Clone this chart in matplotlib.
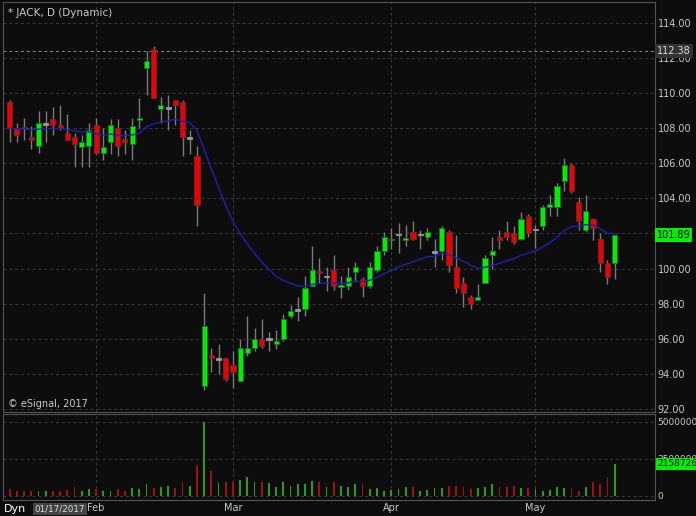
import matplotlib
matplotlib.use("Agg")
import matplotlib.pyplot as plt
import numpy as np
import pandas as pd

opens = [109.5,108.0,108.05,107.5,107.0,108.2,108.5,108.2,107.7,107.5,106.9,107.0,108.2,106.6,107.2,108.0,107.4,107.1,108.45,111.4,
         112.5,109.1,109.1,109.6,109.5,107.4,106.4,93.3,95.1,94.8,94.9,94.5,93.6,95.2,95.5,96.0,95.95,95.7,96.0,97.3,
         97.6,97.7,99.0,99.85,99.5,99.9,98.95,99.0,99.8,99.4,99.0,99.9,101.0,101.6,101.9,101.65,102.1,101.9,101.8,100.9,
         101.0,102.1,100.1,99.2,98.4,98.2,99.2,100.8,101.8,102.1,102.0,101.7,103.0,102.2,102.4,103.5,103.5,105.0,105.9,103.8,
         102.2,102.8,101.7,100.3,100.3]
highs = [109.6,108.3,108.6,108.1,109.0,109.0,109.2,109.3,108.8,107.7,107.6,108.3,108.6,108.0,108.5,108.5,107.9,108.6,109.7,112.4,
         112.7,109.8,109.9,109.6,109.6,107.9,107.0,98.6,95.5,95.7,94.9,95.3,96.0,97.3,96.6,97.1,96.4,96.5,97.4,97.9,
         98.4,99.6,101.3,100.6,100.1,100.8,99.6,100.1,100.4,99.5,100.4,101.3,102.1,102.3,102.6,102.5,102.7,102.2,102.3,101.7,
         102.4,102.2,101.9,99.5,98.5,99.1,100.8,101.8,102.2,102.7,102.4,103.2,103.1,102.5,103.6,104.2,104.9,106.3,106.0,104.1,
         104.2,102.9,102.0,100.5,101.9]
lows = [107.2,107.2,107.3,106.8,106.6,107.2,107.6,107.9,107.3,105.8,105.8,105.8,106.5,106.2,106.5,106.4,106.5,106.2,108.0,109.9,
        109.7,108.3,107.9,108.2,106.4,106.5,102.4,93.1,94.1,94.0,93.6,93.2,93.6,95.0,95.3,95.5,95.3,95.4,95.9,97.2,
        97.0,97.3,99.0,99.2,98.7,98.8,98.3,98.8,99.3,98.4,98.9,99.8,100.8,101.1,100.9,101.3,101.6,101.1,101.6,100.1,
        100.5,99.8,98.6,97.8,97.7,98.2,99.2,100.0,101.1,101.6,101.4,101.6,101.8,101.2,102.2,103.0,103.0,104.4,104.3,102.2,
        102.1,101.6,99.8,99.1,99.4]
closes = [108.0,107.6,107.95,107.3,108.3,108.2,108.2,108.0,107.3,107.1,107.2,107.9,106.6,106.9,108.2,107.0,107.2,108.1,108.55,111.8,
          109.7,109.3,109.1,109.3,107.5,107.4,103.6,96.7,94.9,94.8,93.7,94.1,95.5,95.5,96.0,95.6,95.95,95.9,97.1,97.6,
          97.6,98.9,99.9,99.75,99.5,99.0,99.05,99.5,100.1,99.0,100.1,101.0,101.8,101.7,101.9,101.75,101.7,101.9,102.1,100.9,
          102.3,100.2,98.9,98.6,98.0,98.4,100.6,101.0,101.6,101.8,101.5,102.8,102.0,102.2,103.5,103.7,104.7,105.9,104.4,102.7,
          103.3,102.3,100.3,99.5,101.89]
volumes_m = [0.45,0.34,0.34,0.34,0.3,0.3,0.34,0.34,0.4,0.6,0.34,0.45,0.45,0.3,0.34,0.45,0.3,0.55,0.45,0.77,
             0.55,0.6,0.66,0.55,0.95,0.66,2.1,5.0,1.7,0.84,0.95,0.95,1.07,1.25,0.9,0.9,0.84,0.6,0.9,0.66,
             0.77,0.77,1.0,0.9,0.57,0.9,0.68,0.6,0.8,0.77,0.45,0.5,0.34,0.4,0.43,0.57,0.57,0.34,0.4,0.5,
             0.5,0.66,0.66,0.6,0.43,0.5,0.57,0.8,0.6,0.57,0.66,0.55,0.5,0.43,0.34,0.4,0.57,0.5,0.5,0.34,
             0.6,0.93,0.8,1.3,2.158726]
month_labels = ["Feb", "Mar", "Apr", "May"]
month_pos = [12, 31, 53, 73]

BG = "#0d0d0d"
GRID = "#3a3a3a"
TXT = "#c8c8c8"
GREEN = "#00ee00"
RED = "#ee0000"

n = len(closes)
x = np.arange(n)
o = np.array(opens); c = np.array(closes); h = np.array(highs); l = np.array(lows)
ma = pd.Series(c).ewm(span=20, adjust=False).mean()

fig = plt.figure(figsize=(6.96, 5.16), dpi=100, facecolor=BG)
ax = fig.add_axes([0.004, 0.2016, 0.937, 0.795], facecolor=BG)
axv = fig.add_axes([0.004, 0.031, 0.937, 0.167], facecolor=BG, sharex=ax)

for a in (ax, axv):
    for s in a.spines.values():
        s.set_color("#555555")
    a.tick_params(colors=TXT, labelsize=7, length=0, pad=2)
    a.yaxis.tick_right()
    a.set_axisbelow(True)
    a.grid(True, color=GRID, linestyle=(0, (3, 3)), linewidth=0.7)

w = 0.7
for i in range(n):
    if abs(c[i] - o[i]) < 0.06:
        col, ec = "#9a9a9a", "#9a9a9a"
    elif c[i] > o[i]:
        col, ec = GREEN, "#2a6a2a"
    else:
        col, ec = RED, "#6a2a2a"
    ax.vlines(x[i], l[i], h[i], color="#7a7a7a", linewidth=1.0, zorder=2)
    lo, hi = min(o[i], c[i]), max(o[i], c[i])
    ax.bar(x[i], max(hi - lo, 0.08), bottom=lo, width=w, color=col, edgecolor=ec, linewidth=0.6, zorder=3)

ax.plot(x, ma, color="#2020b0", linewidth=1.0, zorder=4)
ax.axhline(max(highs) - 0.32, color="#888888", linestyle=(0, (3, 3)), linewidth=0.7)

ax.set_ylim(91.83, 115.2)
ax.set_yticks(np.arange(92, 115, 2))
ax.set_yticklabels([f"{v:.2f}" for v in np.arange(92, 115, 2)])
ax.set_xlim(-0.97, 89.6)
ax.set_xticks(month_pos)
ax.tick_params(axis="x", labelbottom=False)

ax.text(0.008, 0.985, "* JACK, D (Dynamic)", transform=ax.transAxes, color=TXT, fontsize=7.5, va="top")
ax.text(0.008, 0.008, "© eSignal, 2017", transform=ax.transAxes, color=TXT, fontsize=7, va="bottom")
ax.text(1.003, 112.38, "112.38", transform=ax.get_yaxis_transform(), color="#dddddd", fontsize=7, va="center",
        bbox=dict(boxstyle="square,pad=0.2", fc="#333333", ec="none"))
ax.text(1.003, closes[-1], f"{closes[-1]:.2f}", transform=ax.get_yaxis_transform(), color="#000000", fontsize=7, va="center",
        bbox=dict(boxstyle="square,pad=0.2", fc=GREEN, ec="none"))

vcols = ["#2f9a12" if c[i] >= o[i] else "#a01010" for i in range(n)]
axv.bar(x, np.array(volumes_m) * 1e6, width=0.25, color=vcols)
axv.set_ylim(-0.29e6, 5.54e6)
axv.set_yticks([0, 2.5e6, 5e6])
axv.set_yticklabels(["0", "2500000", "5000000"], fontsize=6.5)
axv.set_xticks(month_pos)
axv.set_xticklabels(month_labels)
axv.text(1.003, volumes_m[-1] * 1e6, "2158726", transform=axv.get_yaxis_transform(), color="#000000", fontsize=6.5,
         va="center", bbox=dict(boxstyle="square,pad=0.15", fc=GREEN, ec="none"))

fig.text(0.006, 0.014, "Dyn", color="#ffffff", fontsize=8, va="center")
fig.text(0.05, 0.014, "01/17/2017", color="#dddddd", fontsize=6.3, va="center",
         bbox=dict(boxstyle="square,pad=0.15", fc="#444444", ec="none"))

fig.savefig("out.png", dpi=100, facecolor=BG)
